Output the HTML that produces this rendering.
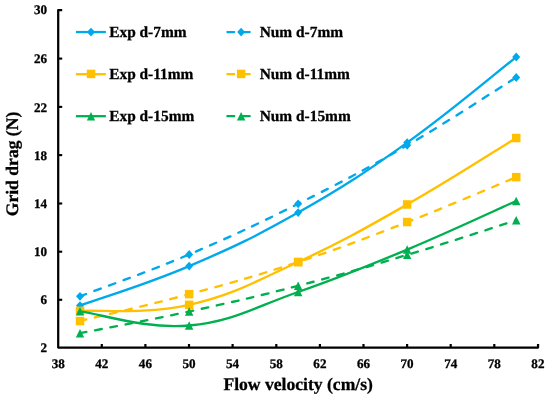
<!DOCTYPE html>
<html><head><meta charset="utf-8"><title>Grid drag vs flow velocity</title>
<style>
html,body{margin:0;padding:0;background:#fff;}
body{width:550px;height:398px;overflow:hidden;}
svg{display:block;}
text{font-family:"Liberation Serif","Times New Roman",serif;font-weight:bold;fill:#000;stroke:#000;stroke-width:0.3px;text-rendering:geometricPrecision;}
.tk{font-size:13.1px;}
.lg{font-size:15.4px;}
.ax{font-size:17.6px;}
</style></head><body>
<svg width="550" height="398" viewBox="0 0 550 398">
<rect width="550" height="398" fill="#fff"/>
<path d="M80.0 305.6C101.8 297.7 145.6 284.7 189.2 266.1C232.8 247.5 254.5 237.3 298.1 212.6C341.7 187.9 363.6 173.7 407.2 142.6C450.8 111.5 494.4 74.2 516.2 57.1" fill="none" stroke="#00a8ec" stroke-width="2.35" stroke-linejoin="round"/>
<path d="M80.0 301.2L84.0 305.6L80.0 310.1L76.0 305.6Z" fill="#00a8ec"/>
<path d="M189.2 261.7L193.1 266.1L189.2 270.6L185.2 266.1Z" fill="#00a8ec"/>
<path d="M298.1 208.2L302.1 212.6L298.1 217.0L294.2 212.6Z" fill="#00a8ec"/>
<path d="M407.2 138.2L411.1 142.6L407.2 147.0L403.2 142.6Z" fill="#00a8ec"/>
<path d="M516.2 52.6L520.2 57.1L516.2 61.6L512.2 57.1Z" fill="#00a8ec"/>
<path d="M80.0 296.3C101.8 287.9 145.6 272.9 189.2 254.4C232.8 235.9 254.5 225.6 298.1 203.8C341.7 182.0 363.6 170.6 407.2 145.3C450.8 120.0 494.4 91.0 516.2 77.4" fill="none" stroke="#00a8ec" stroke-width="2.35" stroke-linejoin="round" stroke-dasharray="6.7 8.8" stroke-linecap="round"/>
<path d="M80.0 291.9L84.0 296.3L80.0 300.8L76.0 296.3Z" fill="#00a8ec"/>
<path d="M189.2 250.0L193.1 254.4L189.2 258.9L185.2 254.4Z" fill="#00a8ec"/>
<path d="M298.1 199.4L302.1 203.8L298.1 208.2L294.2 203.8Z" fill="#00a8ec"/>
<path d="M407.2 140.9L411.1 145.3L407.2 149.8L403.2 145.3Z" fill="#00a8ec"/>
<path d="M516.2 73.0L520.2 77.4L516.2 81.9L512.2 77.4Z" fill="#00a8ec"/>
<path d="M80.0 310.9C101.8 309.7 145.6 314.6 189.2 304.8C232.8 295.0 254.5 282.1 298.1 262.0C341.7 241.9 363.6 229.3 407.2 204.5C450.8 179.7 494.4 151.3 516.2 138.0" fill="none" stroke="#ffc000" stroke-width="2.35" stroke-linejoin="round"/>
<rect x="75.8" y="306.6" width="8.5" height="8.5" fill="#ffc000"/>
<rect x="184.9" y="300.6" width="8.5" height="8.5" fill="#ffc000"/>
<rect x="293.9" y="257.8" width="8.5" height="8.5" fill="#ffc000"/>
<rect x="402.9" y="200.2" width="8.5" height="8.5" fill="#ffc000"/>
<rect x="512.0" y="133.8" width="8.5" height="8.5" fill="#ffc000"/>
<path d="M80.0 321.0C101.8 315.6 145.6 306.0 189.2 294.2C232.8 282.4 254.5 276.4 298.1 262.0C341.7 247.6 363.6 239.1 407.2 222.1C450.8 205.1 494.4 186.2 516.2 177.2" fill="none" stroke="#ffc000" stroke-width="2.35" stroke-linejoin="round" stroke-dasharray="6.7 8.8" stroke-linecap="round"/>
<rect x="75.8" y="316.8" width="8.5" height="8.5" fill="#ffc000"/>
<rect x="184.9" y="289.9" width="8.5" height="8.5" fill="#ffc000"/>
<rect x="293.9" y="257.8" width="8.5" height="8.5" fill="#ffc000"/>
<rect x="402.9" y="217.8" width="8.5" height="8.5" fill="#ffc000"/>
<rect x="512.0" y="172.9" width="8.5" height="8.5" fill="#ffc000"/>
<path d="M80.0 311.4C101.8 314.2 145.6 329.4 189.2 325.5C232.8 321.6 254.5 307.2 298.1 292.0C341.7 276.8 363.6 267.8 407.2 249.6C450.8 231.4 494.4 210.7 516.2 201.0" fill="none" stroke="#00b050" stroke-width="2.35" stroke-linejoin="round"/>
<path d="M80.0 307.1L84.2 315.6L75.8 315.6Z" fill="#00b050"/>
<path d="M189.2 321.2L193.4 329.8L184.9 329.8Z" fill="#00b050"/>
<path d="M298.1 287.8L302.4 296.2L293.9 296.2Z" fill="#00b050"/>
<path d="M407.2 245.3L411.4 253.8L402.9 253.8Z" fill="#00b050"/>
<path d="M516.2 196.8L520.5 205.2L512.0 205.2Z" fill="#00b050"/>
<path d="M80.0 333.2C101.8 328.9 145.6 321.0 189.2 311.5C232.8 302.0 254.5 297.1 298.1 285.8C341.7 274.5 363.6 268.0 407.2 254.9C450.8 241.8 494.4 227.2 516.2 220.3" fill="none" stroke="#00b050" stroke-width="2.35" stroke-linejoin="round" stroke-dasharray="6.7 8.8" stroke-linecap="round"/>
<path d="M80.0 328.9L84.2 337.4L75.8 337.4Z" fill="#00b050"/>
<path d="M189.2 307.2L193.4 315.8L184.9 315.8Z" fill="#00b050"/>
<path d="M298.1 281.6L302.4 290.1L293.9 290.1Z" fill="#00b050"/>
<path d="M407.2 250.7L411.4 259.1L402.9 259.1Z" fill="#00b050"/>
<path d="M516.2 216.1L520.5 224.6L512.0 224.6Z" fill="#00b050"/>
<path d="M62.2 10H58.2V347.6H538.05V344" fill="none" stroke="#000" stroke-width="2.25" stroke-linejoin="round"/>
<text class="tk" x="47.1" y="352" text-anchor="end">2</text>
<path d="M58.2 299.8H62.2" stroke="#000" stroke-width="2.1"/>
<text class="tk" x="47.1" y="304" text-anchor="end">6</text>
<path d="M58.2 251.7H62.2" stroke="#000" stroke-width="2.1"/>
<text class="tk" x="47.1" y="256" text-anchor="end">10</text>
<path d="M58.2 203.5H62.2" stroke="#000" stroke-width="2.1"/>
<text class="tk" x="47.1" y="208" text-anchor="end">14</text>
<path d="M58.2 155.1H62.2" stroke="#000" stroke-width="2.1"/>
<text class="tk" x="47.1" y="160" text-anchor="end">18</text>
<path d="M58.2 106.9H62.2" stroke="#000" stroke-width="2.1"/>
<text class="tk" x="47.1" y="112" text-anchor="end">22</text>
<path d="M58.2 58.6H62.2" stroke="#000" stroke-width="2.1"/>
<text class="tk" x="47.1" y="63" text-anchor="end">26</text>
<text class="tk" x="47.1" y="14" text-anchor="end">30</text>
<text class="tk" x="58.2" y="368.4" text-anchor="middle">38</text>
<path d="M101.8 347.6V344" stroke="#000" stroke-width="2.2"/>
<text class="tk" x="101.8" y="368.4" text-anchor="middle">42</text>
<path d="M145.4 347.6V344" stroke="#000" stroke-width="2.2"/>
<text class="tk" x="145.4" y="368.4" text-anchor="middle">46</text>
<path d="M189.0 347.6V344" stroke="#000" stroke-width="2.2"/>
<text class="tk" x="189.0" y="368.4" text-anchor="middle">50</text>
<path d="M232.6 347.6V344" stroke="#000" stroke-width="2.2"/>
<text class="tk" x="232.6" y="368.4" text-anchor="middle">54</text>
<path d="M276.3 347.6V344" stroke="#000" stroke-width="2.2"/>
<text class="tk" x="276.3" y="368.4" text-anchor="middle">58</text>
<path d="M319.9 347.6V344" stroke="#000" stroke-width="2.2"/>
<text class="tk" x="319.9" y="368.4" text-anchor="middle">62</text>
<path d="M363.5 347.6V344" stroke="#000" stroke-width="2.2"/>
<text class="tk" x="363.5" y="368.4" text-anchor="middle">66</text>
<path d="M407.1 347.6V344" stroke="#000" stroke-width="2.2"/>
<text class="tk" x="407.1" y="368.4" text-anchor="middle">70</text>
<path d="M450.7 347.6V344" stroke="#000" stroke-width="2.2"/>
<text class="tk" x="450.7" y="368.4" text-anchor="middle">74</text>
<path d="M494.3 347.6V344" stroke="#000" stroke-width="2.2"/>
<text class="tk" x="494.3" y="368.4" text-anchor="middle">78</text>
<text class="tk" x="537.9" y="368.4" text-anchor="middle">82</text>
<text class="ax" x="298.2" y="390.2" text-anchor="middle">Flow velocity (cm/s)</text>
<text class="ax" transform="translate(17.8,164.0) rotate(-90)" text-anchor="middle">Grid drag (N)</text>
<path d="M75.9 32.05h30" stroke="#00a8ec" stroke-width="2.3"/>
<path d="M91.0 27.7L95.0 32.1L91.0 36.6L87.0 32.1Z" fill="#00a8ec"/>
<text class="lg" x="109.2" y="37.0">Exp d-7mm</text>
<path d="M227.4 32.05h22.7" stroke="#00a8ec" stroke-width="2.3" stroke-dasharray="6.8 8.7" stroke-linecap="round"/>
<path d="M241.1 27.7L245.1 32.1L241.1 36.6L237.2 32.1Z" fill="#00a8ec"/>
<text class="lg" x="259.7" y="37.0">Num d-7mm</text>
<path d="M75.9 74.2h30" stroke="#ffc000" stroke-width="2.3"/>
<rect x="86.8" y="69.7" width="8.5" height="8.5" fill="#ffc000"/>
<text class="lg" x="109.2" y="79.0">Exp d-11mm</text>
<path d="M227.4 74.2h22.7" stroke="#ffc000" stroke-width="2.3" stroke-dasharray="6.8 8.7" stroke-linecap="round"/>
<rect x="236.9" y="69.7" width="8.5" height="8.5" fill="#ffc000"/>
<text class="lg" x="259.7" y="79.0">Num d-11mm</text>
<path d="M75.9 116.2h30" stroke="#00b050" stroke-width="2.3"/>
<path d="M91.0 112.0L95.2 120.5L86.8 120.5Z" fill="#00b050"/>
<text class="lg" x="109.2" y="121.0">Exp d-15mm</text>
<path d="M227.4 116.2h22.7" stroke="#00b050" stroke-width="2.3" stroke-dasharray="6.8 8.7" stroke-linecap="round"/>
<path d="M241.1 112.0L245.4 120.5L236.9 120.5Z" fill="#00b050"/>
<text class="lg" x="259.7" y="121.0">Num d-15mm</text>
</svg></body></html>
